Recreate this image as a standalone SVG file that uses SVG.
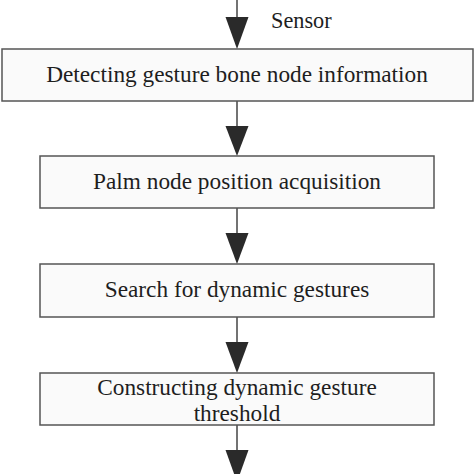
<svg xmlns="http://www.w3.org/2000/svg" width="474" height="474" viewBox="0 0 474 474">
<style>
.box{fill:#fafafa;stroke:#555;stroke-width:1.5}
.t{font-family:"Liberation Serif",serif;font-size:23.3px;fill:#1e1e1e;text-anchor:middle}
.ln{stroke:#444;stroke-width:1.5;fill:none}
.ah{fill:#2a2a2a}
</style>
<rect width="474" height="474" fill="#fff"/>
<g id="connectors">
<line class="ln" x1="237" y1="0" x2="237" y2="20"/>
<polygon class="ah" points="225.5,17 248.5,17 237,49"/>
<line class="ln" x1="237" y1="101" x2="237" y2="128"/>
<polygon class="ah" points="225.5,126 248.5,126 237,156"/>
<line class="ln" x1="237" y1="208" x2="237" y2="235"/>
<polygon class="ah" points="225.5,233 248.5,233 237,264"/>
<line class="ln" x1="237" y1="317" x2="237" y2="344"/>
<polygon class="ah" points="225.5,342 248.5,342 237,373"/>
<line class="ln" x1="237" y1="425" x2="237" y2="452"/>
<polygon class="ah" points="225.5,450 248.5,450 237,482"/>
<text x="271" y="28" font-family="Liberation Serif, serif" font-size="22.3" fill="#1e1e1e">Sensor</text>
</g>
<g id="n1">
<rect class="box" x="2" y="49" width="471" height="52"/>
<text class="t" x="237" y="82">Detecting gesture bone node information</text>
</g>
<g id="n2">
<rect class="box" x="40" y="156" width="394" height="52"/>
<text class="t" x="237" y="189">Palm node position acquisition</text>
</g>
<g id="n3">
<rect class="box" x="40" y="264" width="394" height="53"/>
<text class="t" x="237" y="297">Search for dynamic gestures</text>
</g>
<g id="n4">
<rect class="box" x="40" y="373" width="394" height="52"/>
<text class="t" x="237" y="395">Constructing dynamic gesture</text>
<text class="t" x="237" y="421">threshold</text>
</g>
</svg>
